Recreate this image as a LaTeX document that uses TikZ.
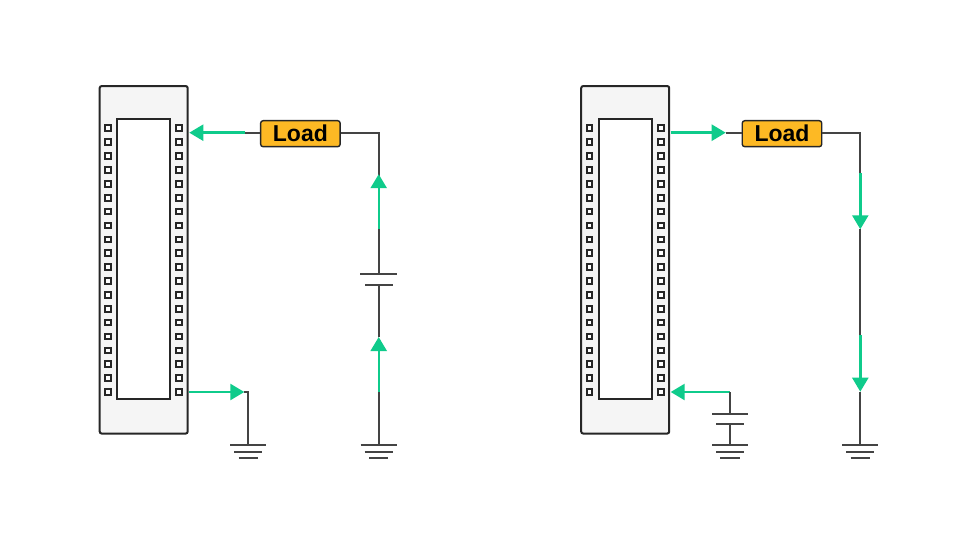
\documentclass[tikz,border=0pt]{standalone}
\usepackage{fontspec}
\setmainfont{Liberation Sans}
\usetikzlibrary{arrows.meta}
\definecolor{wirec}{HTML}{444444}
\definecolor{greenc}{HTML}{0FCB8B}
\definecolor{loadc}{HTML}{FDB924}
\definecolor{boardc}{HTML}{F5F5F5}
\tikzset{
  x=1pt,y=-1pt,
  board/.style={draw=black!85,fill=boardc,line width=2pt,rounded corners=2pt,minimum width=88pt,minimum height=347.5pt,inner sep=0pt},
  inner chip/.style={draw=black!85,fill=white,line width=2pt,minimum width=53pt,minimum height=280pt,inner sep=0pt},
  pad/.style={draw=black!85,fill=white,line width=2pt,minimum width=5.6pt,minimum height=5.6pt,inner sep=0pt},
  load/.style={draw=black!85,fill=loadc,line width=1.4pt,rounded corners=2.5pt,minimum width=79.5pt,minimum height=26pt,inner sep=0pt,font=\fontsize{23}{24}\selectfont\bfseries,text=black},
  wire/.style={draw=wirec,line width=2pt},
  plate/.style={draw=wirec,line width=2pt},
  flow/.style={draw=greenc,line width=2.4pt},
  flowtip/.style={flow,-{Triangle[length=14pt,width=16pt,fill=greenc]}},
}
\begin{document}
\begin{tikzpicture}
\useasboundingbox (0,0) rectangle (960,540);
% ---------- left circuit
\node[board] (bL) at (143.7,259.8) {};
\node[inner chip] (cL) at (143.8,259.3) {};
\foreach \i in {0,...,19}{
  \node[pad] (pLa\i) at (108,128.3+13.88*\i) {};
  \node[pad] (pLb\i) at (179,128.3+13.88*\i) {};
}
\node[load] (lL) at (300.4,133.7) {Load};
\coordinate (a1) at (378.7,132.7);
\coordinate (a2) at (245,132.7);
\coordinate (a3) at (189.3,132.7);
\coordinate (b1) at (378.7,229);
\coordinate (b2) at (378.7,174.2);
\coordinate (c1) at (378.7,274);
\coordinate (c1l) at (360,274);
\coordinate (c1r) at (397,274);
\coordinate (c2) at (378.7,284.7);
\coordinate (c2l) at (365,284.7);
\coordinate (c2r) at (392.7,284.7);
\coordinate (d1) at (378.7,337);
\coordinate (d2) at (378.7,392);
\coordinate (gR) at (378.7,444.7);
\coordinate (e1) at (189.3,392);
\coordinate (e2) at (244.3,392);
\coordinate (e3) at (248.3,392);
\coordinate (gL) at (248.3,444.7);
\draw[wire] (lL.east |- a1) -- (a1) -- (c1);
\draw[wire] (lL.west |- a2) -- (a2);
\draw[flowtip] (a2) -- (a3);
\draw[flowtip] (b1) -- (b2);
\draw[plate] (c1l) -- (c1r);
\draw[plate] (c2l) -- (c2r);
\draw[wire] (c2) -- (d1);
\draw[flowtip] (d2) -- (d1);
\draw[wire] (d2) -- (gR);
\draw[flowtip] (e1) -- (e2);
\draw[wire] (e2) -- (e3) -- (gL);
% ---------- right circuit
\node[board] (bR) at (625.2,259.8) {};
\node[inner chip] (cR) at (625.3,259.3) {};
\foreach \i in {0,...,19}{
  \node[pad] (pRa\i) at (589.6,128.3+13.88*\i) {};
  \node[pad] (pRb\i) at (660.7,128.3+13.88*\i) {};
}
\node[load] (lR) at (782,133.7) {Load};
\coordinate (f1) at (670.7,132.7);
\coordinate (f2) at (725.7,132.7);
\coordinate (h1) at (860.3,132.7);
\coordinate (h2) at (860.3,173.3);
\coordinate (h3) at (860.3,229.3);
\coordinate (h4) at (860.3,335);
\coordinate (h5) at (860.3,391.7);
\coordinate (gRR) at (860.3,444.7);
\coordinate (j1) at (730,392);
\coordinate (j2) at (670.7,392);
\coordinate (k1) at (730,414);
\coordinate (k1l) at (712.3,414);
\coordinate (k1r) at (748.3,414);
\coordinate (k2) at (730,424.3);
\coordinate (k2l) at (716.3,424.3);
\coordinate (k2r) at (744,424.3);
\coordinate (gM) at (730,444.7);
\draw[flowtip] (f1) -- (f2);
\draw[wire] (f2) -- (lR.west |- f2);
\draw[wire] (lR.east |- h1) -- (h1) -- (h2);
\draw[flowtip] (h2) -- (h3);
\draw[wire] (h3) -- (h4);
\draw[flowtip] (h4) -- (h5);
\draw[wire] (h5) -- (gRR);
\draw[flowtip] (j1) -- (j2);
\draw[wire] (j1) -- (k1);
\draw[plate] (k1l) -- (k1r);
\draw[plate] (k2l) -- (k2r);
\draw[wire] (k2) -- (gM);
% ---------- grounds
\foreach \g in {gL,gR,gM,gRR}{
  \draw[plate] ([xshift=-18pt]\g) -- ([xshift=18pt]\g);
  \draw[plate] ([xshift=-14pt,yshift=-6.8pt]\g) -- ([xshift=14pt,yshift=-6.8pt]\g);
  \draw[plate] ([xshift=-9.7pt,yshift=-13.3pt]\g) -- ([xshift=9.7pt,yshift=-13.3pt]\g);
}
\end{tikzpicture}
\end{document}
